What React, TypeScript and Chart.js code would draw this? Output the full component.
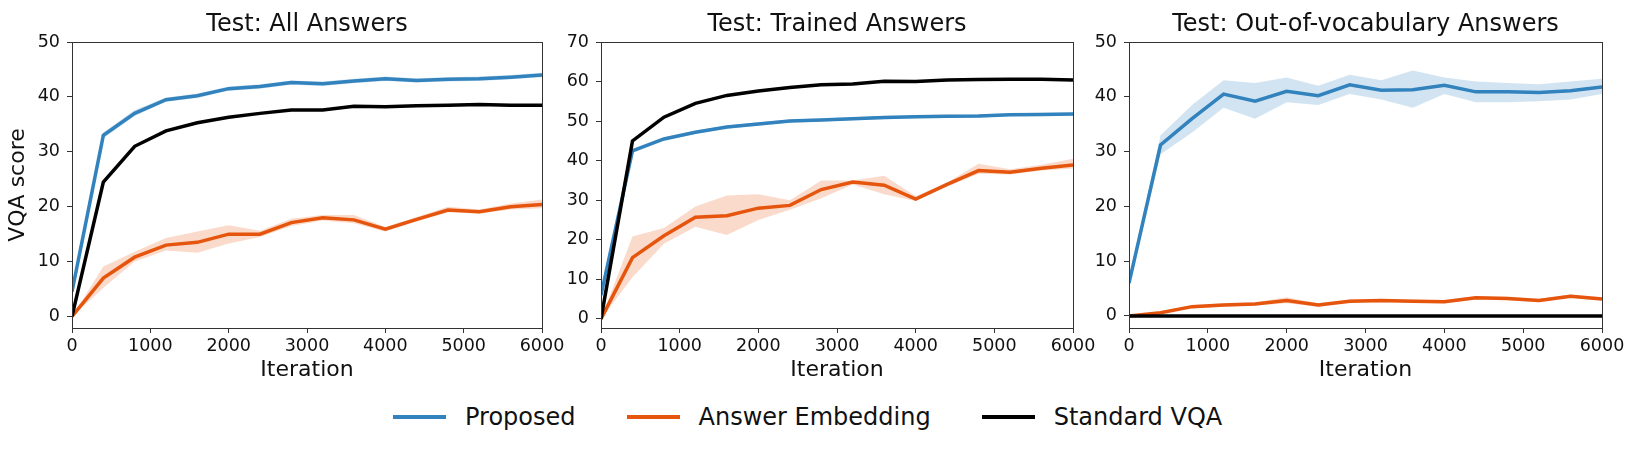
import { useEffect, useRef } from 'react';
import { Chart, registerables } from 'chart.js';

Chart.register(...registerables);

// iterations at which each run was evaluated
const iterations = [0, 400, 800, 1200, 1600, 2000, 2400, 2800, 3200, 3600, 4000, 4400, 4800, 5200, 5600, 6000];

// Test: All Answers
const allProposed = [4.5, 33, 37, 39.5, 40.2, 41.5, 41.9, 42.6, 42.4, 42.9, 43.3, 43.0, 43.2, 43.3, 43.6, 44.0];
const allProposedLo = [4.0, 32.4, 36.5, 39.1, 39.8, 41.1, 41.5, 42.2, 42.0, 42.5, 42.9, 42.6, 42.8, 42.9, 43.2, 43.6];
const allProposedHi = [5.0, 33.5, 37.6, 39.9, 40.6, 41.9, 42.3, 43.0, 42.8, 43.3, 43.7, 43.4, 43.6, 43.7, 44.0, 44.4];
const allEmbedding = [0, 7.0, 10.8, 13.0, 13.5, 15.0, 15.0, 17.1, 18.0, 17.6, 15.9, 17.7, 19.4, 19.1, 20.0, 20.4];
const allEmbeddingLo = [0, 5.2, 10.0, 12.0, 11.6, 13.3, 14.5, 16.5, 17.5, 17.0, 15.5, 17.3, 19.0, 18.7, 19.5, 19.7];
const allEmbeddingHi = [0, 9.1, 11.8, 14.3, 15.5, 16.6, 15.6, 17.8, 18.5, 18.5, 16.3, 18.1, 20.0, 19.5, 20.6, 21.3];
const allStandard = [0, 24.5, 31, 33.8, 35.3, 36.3, 37.0, 37.6, 37.6, 38.3, 38.2, 38.4, 38.5, 38.6, 38.5, 38.5];

// Test: Trained Answers
const trainedProposed = [6, 42.5, 45.5, 47.2, 48.5, 49.3, 50.0, 50.3, 50.6, 50.9, 51.1, 51.2, 51.3, 51.6, 51.7, 51.8];
const trainedProposedLo = [5.6, 42.1, 45.1, 46.8, 48.1, 48.9, 49.6, 49.9, 50.2, 50.5, 50.7, 50.8, 50.9, 51.2, 51.3, 51.4];
const trainedProposedHi = [6.4, 42.9, 45.9, 47.6, 48.9, 49.7, 50.4, 50.7, 51.0, 51.3, 51.5, 51.6, 51.7, 52.0, 52.1, 52.2];
const trainedEmbedding = [0, 15.5, 21.0, 25.7, 26.1, 28.0, 28.7, 32.7, 34.6, 33.8, 30.3, 34.0, 37.5, 37.1, 38.1, 38.9];
const trainedEmbeddingLo = [0, 10.5, 19.0, 23.3, 21.2, 25.0, 27.6, 30.5, 34.0, 31.5, 29.8, 33.5, 36.7, 36.5, 37.5, 38.0];
const trainedEmbeddingHi = [0, 20.8, 23.0, 28.4, 31.2, 31.5, 30.0, 35.0, 35.0, 36.2, 31.0, 34.5, 39.2, 37.8, 39.0, 40.5];
const trainedStandard = [0, 45, 51, 54.5, 56.5, 57.6, 58.5, 59.2, 59.4, 60.1, 60.0, 60.4, 60.5, 60.6, 60.6, 60.4];

// Test: Out-of-vocabulary Answers
const oovProposed = [6, 31.2, 36.0, 40.5, 39.2, 41.0, 40.2, 42.2, 41.2, 41.3, 42.1, 40.9, 40.9, 40.8, 41.1, 41.8];
const oovProposedLo = [5.5, 29.5, 33.5, 38.0, 36.0, 39.0, 38.5, 40.5, 39.5, 38.0, 40.5, 39.0, 39.0, 39.2, 39.5, 40.5];
const oovProposedHi = [6.5, 33.0, 38.5, 43.0, 42.5, 43.5, 42.0, 44.0, 43.0, 44.8, 43.5, 42.8, 42.5, 42.3, 42.8, 43.3];
const oovEmbedding = [0, 0.6, 1.7, 2.0, 2.2, 2.8, 2.0, 2.7, 2.8, 2.7, 2.6, 3.3, 3.2, 2.8, 3.6, 3.1];
const oovEmbeddingLo = [0, 0.4, 1.4, 1.7, 1.9, 2.3, 1.7, 2.4, 2.5, 2.4, 2.3, 3.0, 2.9, 2.5, 3.3, 2.8];
const oovEmbeddingHi = [0, 0.8, 2.0, 2.3, 2.5, 3.4, 2.3, 3.0, 3.1, 3.0, 2.9, 3.6, 3.5, 3.1, 3.9, 3.4];
const oovStandard = [0, 0, 0, 0, 0, 0, 0, 0, 0, 0, 0, 0, 0, 0, 0, 0];

const seriesNames = ['Proposed', 'Answer Embedding', 'Standard VQA'];

const FONT = '"DejaVu Sans", sans-serif';
const BLUE = '#3182bd';
const ORANGE = '#e6550d';
const BLACK = '#000000';
const BLUE_BAND = 'rgba(49, 130, 189, 0.22)';
const ORANGE_BAND = 'rgba(230, 85, 13, 0.22)';
const SPINE = '#333333';
const TEXT = '#111111';

const seriesColors = [BLUE, ORANGE, BLACK];

const toPoints = (ys: number[]) => ys.map((y, i) => ({ x: iterations[i], y }));

// draws the top and right spines so the plot is boxed like matplotlib
const framePlugin = {
  id: 'frame',
  afterDatasetsDraw(chart: any) {
    const { ctx, chartArea } = chart;
    const l = Math.round(chartArea.left) + 0.5;
    const t = Math.round(chartArea.top) + 0.5;
    const r = Math.round(chartArea.right) + 0.5;
    const b = Math.round(chartArea.bottom) + 0.5;
    ctx.save();
    ctx.strokeStyle = SPINE;
    ctx.lineWidth = 1;
    ctx.strokeRect(l, t, r - l, b - t);
    ctx.restore();
  },
};

interface PanelProps {
  title: string;
  left: number;
  plotWidth: number;
  yMin: number;
  yMax: number;
  yTitle?: string;
  proposed: number[];
  proposedLo: number[];
  proposedHi: number[];
  embedding: number[];
  embeddingLo: number[];
  embeddingHi: number[];
  standard: number[];
}

const AXIS_W = 72;
const PAD_R = 30;
const CANVAS_H = 390;

function Panel(props: PanelProps) {
  const canvasRef = useRef<HTMLCanvasElement | null>(null);
  const width = AXIS_W + props.plotWidth + PAD_R;

  useEffect(() => {
    if (!canvasRef.current) return;

    const bandSet = (data: number[], color: string | false) => ({
      data: toPoints(data),
      borderWidth: 0,
      pointRadius: 0,
      backgroundColor: color || 'transparent',
      fill: color ? '-1' : false,
      order: 10,
    });
    const lineSet = (label: string, data: number[], color: string, order: number) => ({
      label,
      data: toPoints(data),
      borderColor: color,
      borderWidth: 3.5,
      pointRadius: 0,
      fill: false,
      tension: 0,
      order,
    });

    const tickFont = { family: FONT, size: 17.5 };

    const chart = new Chart(canvasRef.current, {
      type: 'line',
      data: {
        datasets: [
          bandSet(props.proposedLo, false),
          bandSet(props.proposedHi, BLUE_BAND),
          bandSet(props.embeddingLo, false),
          bandSet(props.embeddingHi, ORANGE_BAND),
          lineSet(seriesNames[0], props.proposed, BLUE, 3),
          lineSet(seriesNames[1], props.embedding, ORANGE, 2),
          lineSet(seriesNames[2], props.standard, BLACK, 1),
        ] as any,
      },
      options: {
        responsive: false,
        animation: false,
        events: [],
        layout: { padding: { left: 0, right: PAD_R, top: 0, bottom: 0 } },
        plugins: {
          legend: { display: false },
          tooltip: { enabled: false },
          title: {
            display: true,
            text: props.title,
            fullSize: false,
            color: TEXT,
            font: { family: FONT, size: 24, weight: 'normal', lineHeight: 1.2 },
            padding: { top: 10.4, bottom: 2.8 },
          },
        },
        scales: {
          x: {
            type: 'linear',
            min: 0,
            max: 6000,
            afterFit: (s: any) => {
              s.height = CANVAS_H - 328;
            },
            ticks: {
              stepSize: 1000,
              autoSkip: false,
              maxRotation: 0,
              padding: 3,
              color: TEXT,
              font: tickFont,
              callback: (v: number) => String(v),
            },
            grid: { display: true, drawOnChartArea: false, drawTicks: true, tickLength: 5, color: SPINE },
            border: { display: true, color: SPINE, width: 1 },
            title: {
              display: true,
              text: 'Iteration',
              color: TEXT,
              font: { family: FONT, size: 22, lineHeight: 1.2 },
              padding: { top: 0, bottom: 6.8 },
            },
          },
          y: {
            type: 'linear',
            min: props.yMin,
            max: props.yMax,
            afterFit: (s: any) => {
              s.width = AXIS_W;
            },
            ticks: {
              stepSize: 10,
              includeBounds: false,
              padding: 7,
              color: TEXT,
              font: tickFont,
              callback: (v: number) => String(v),
            },
            grid: { display: true, drawOnChartArea: false, drawTicks: true, tickLength: 5, color: SPINE },
            border: { display: true, color: SPINE, width: 1 },
            title: {
              display: !!props.yTitle,
              text: props.yTitle || '',
              color: TEXT,
              font: { family: FONT, size: 22, lineHeight: 1.2 },
              padding: { top: 4.8, bottom: 0 },
            },
          },
        },
      } as any,
      plugins: [framePlugin],
    });

    return () => {
      chart.destroy();
    };
  }, [props]);

  return (
    <canvas
      ref={canvasRef}
      width={width}
      height={CANVAS_H}
      style={{ position: 'absolute', left: props.left, top: 0, width, height: CANVAS_H }}
    />
  );
}

function Legend() {
  return (
    <div
      style={{
        position: 'absolute',
        left: 393,
        top: 417,
        transform: 'translateY(-50%)',
        display: 'flex',
        alignItems: 'center',
        fontFamily: FONT,
        fontSize: 24,
        color: TEXT,
        whiteSpace: 'nowrap',
      }}
    >
      {seriesNames.map((name, i) => (
        <div key={name} style={{ display: 'flex', alignItems: 'center', marginLeft: i === 0 ? 0 : 51 }}>
          <span style={{ display: 'inline-block', width: 53, height: 3.5, background: seriesColors[i], marginRight: 19 }} />
          <span style={{ lineHeight: '28px' }}>{name}</span>
        </div>
      ))}
    </div>
  );
}

export default function App() {
  return (
    <div style={{ position: 'fixed', left: 0, top: 0, width: 1638, height: 467, background: '#fff', overflow: 'hidden' }}>
      <Panel
        title="Test: All Answers"
        left={0}
        plotWidth={470}
        yMin={-2.1}
        yMax={50}
        yTitle="VQA score"
        proposed={allProposed}
        proposedLo={allProposedLo}
        proposedHi={allProposedHi}
        embedding={allEmbedding}
        embeddingLo={allEmbeddingLo}
        embeddingHi={allEmbeddingHi}
        standard={allStandard}
      />
      <Panel
        title="Test: Trained Answers"
        left={529}
        plotWidth={472}
        yMin={-2.3}
        yMax={70}
        proposed={trainedProposed}
        proposedLo={trainedProposedLo}
        proposedHi={trainedProposedHi}
        embedding={trainedEmbedding}
        embeddingLo={trainedEmbeddingLo}
        embeddingHi={trainedEmbeddingHi}
        standard={trainedStandard}
      />
      <Panel
        title="Test: Out-of-vocabulary Answers"
        left={1057}
        plotWidth={473}
        yMin={-2.2}
        yMax={50}
        proposed={oovProposed}
        proposedLo={oovProposedLo}
        proposedHi={oovProposedHi}
        embedding={oovEmbedding}
        embeddingLo={oovEmbeddingLo}
        embeddingHi={oovEmbeddingHi}
        standard={oovStandard}
      />
      <Legend />
    </div>
  );
}
